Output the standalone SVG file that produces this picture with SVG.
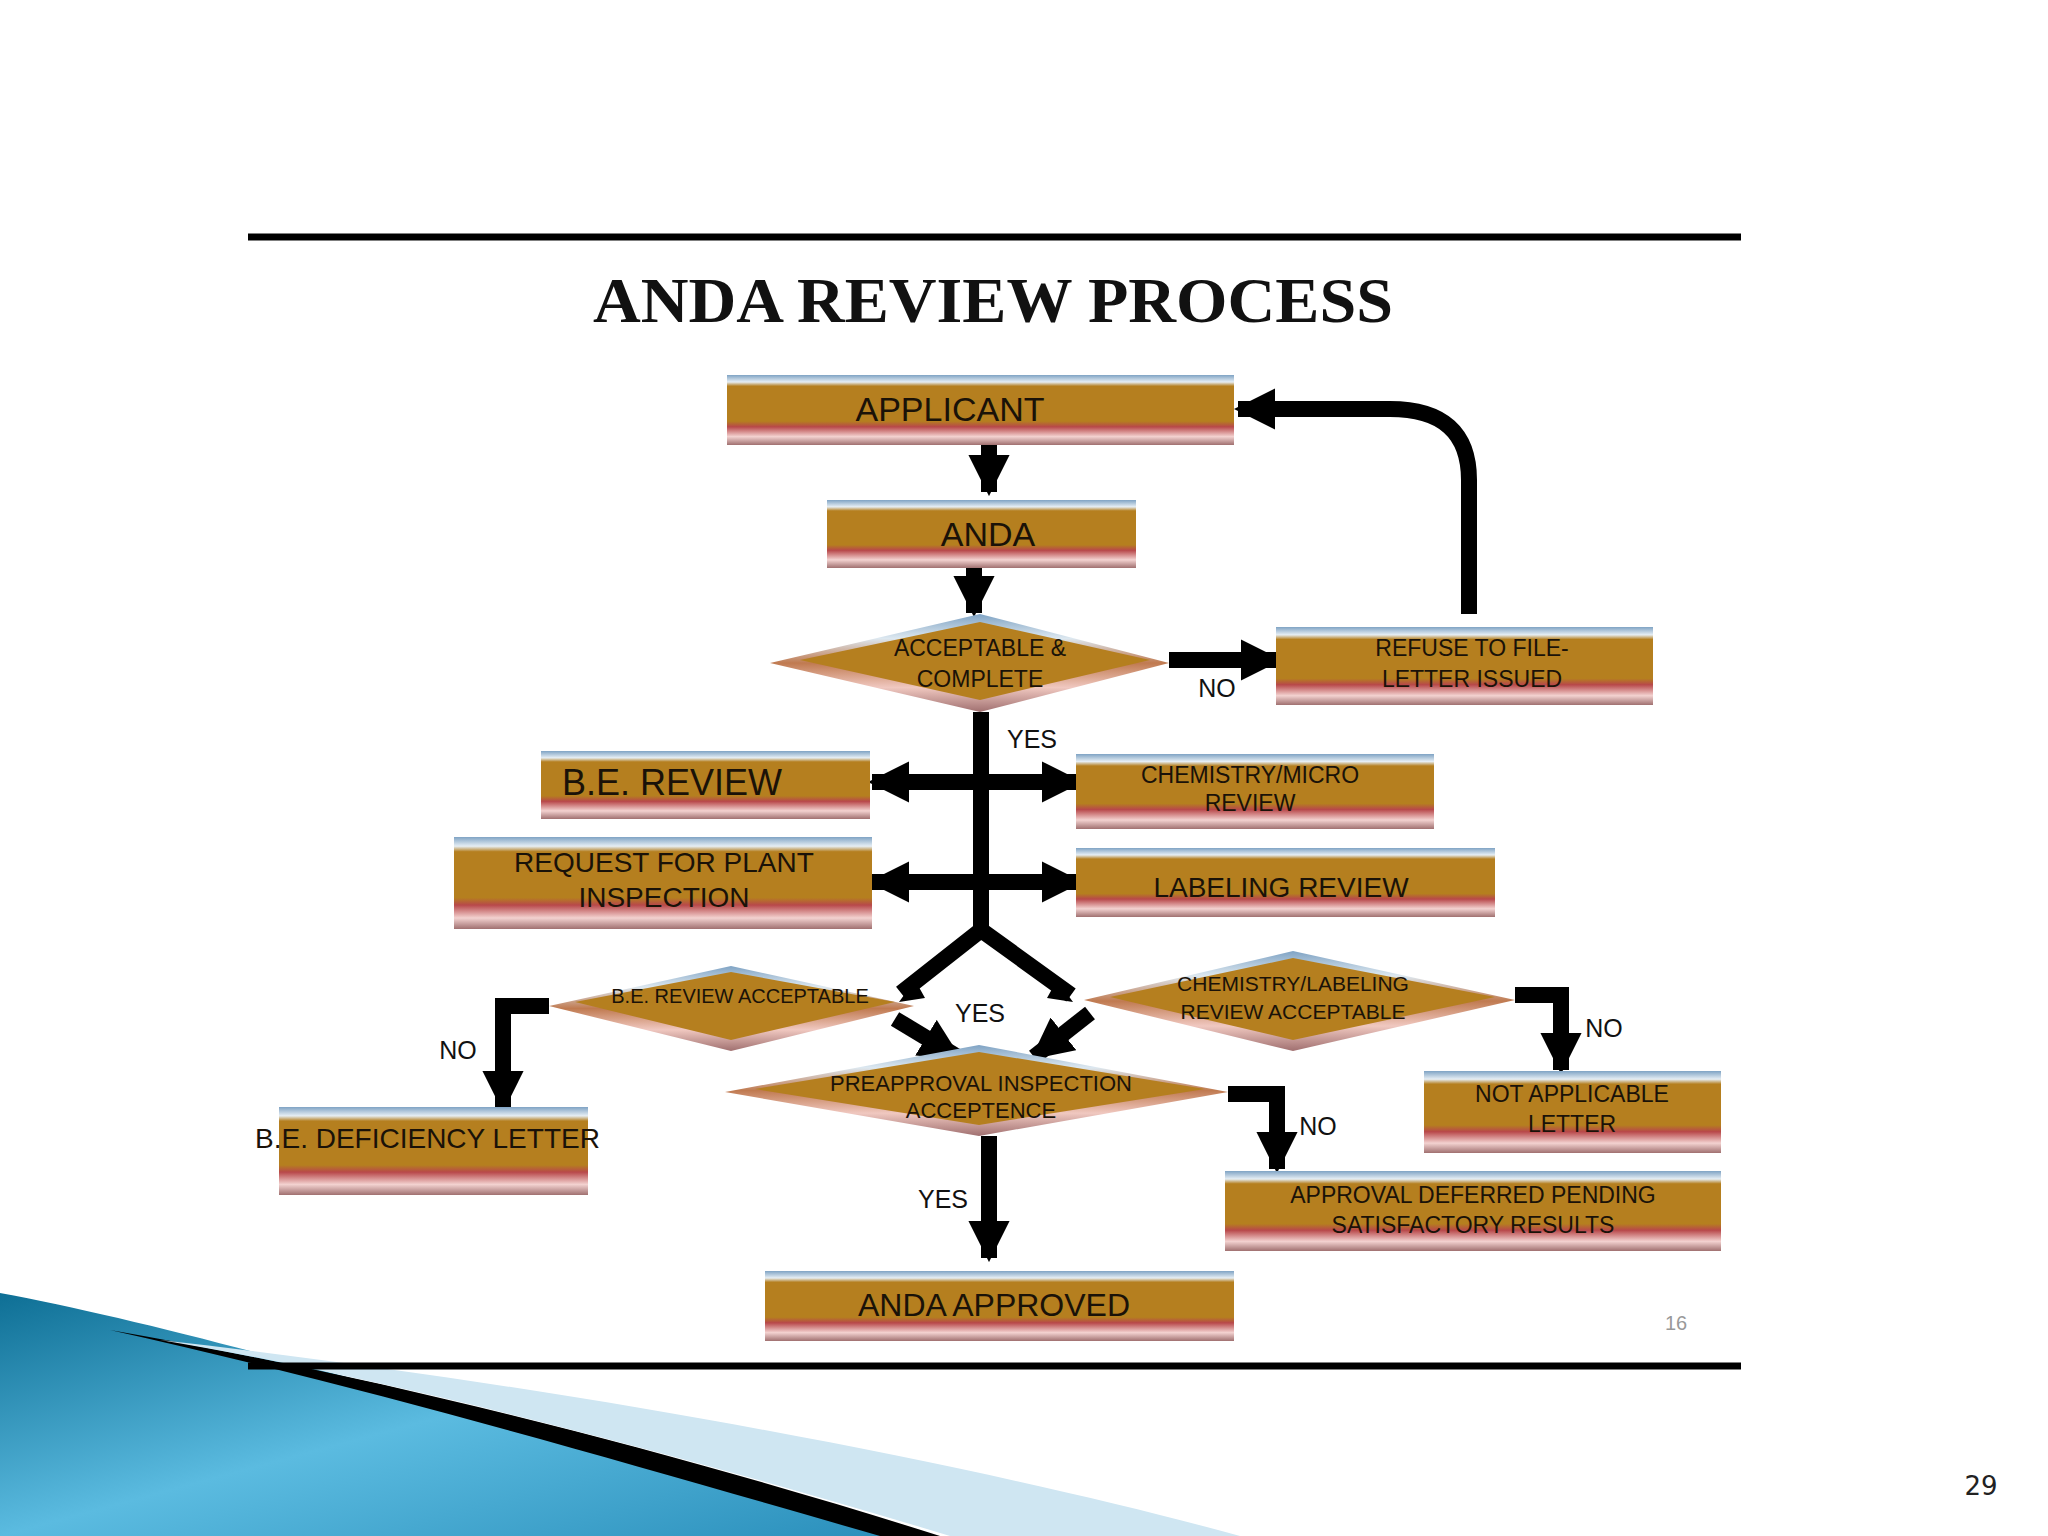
<svg xmlns="http://www.w3.org/2000/svg" width="2048" height="1536" viewBox="0 0 2048 1536">
<defs>
<linearGradient id="bx" x1="0" y1="0" x2="0" y2="1">
<stop offset="0" stop-color="#7fa3c4"/><stop offset="0.1" stop-color="#e6eef4"/><stop offset="0.16" stop-color="#b57f1f"/><stop offset="0.66" stop-color="#b57f1f"/><stop offset="0.74" stop-color="#b8484a"/><stop offset="0.88" stop-color="#f3d2d0"/><stop offset="1" stop-color="#a07070"/>
</linearGradient>
<linearGradient id="dm" x1="0" y1="0" x2="0" y2="1">
<stop offset="0" stop-color="#7fa3c4"/><stop offset="0.25" stop-color="#dde8f0"/><stop offset="0.5" stop-color="#c07a50"/><stop offset="0.75" stop-color="#f0c8c0"/><stop offset="1" stop-color="#a07070"/>
</linearGradient>
<linearGradient id="sw" x1="0" y1="0" x2="1" y2="1">
<stop offset="0" stop-color="#0e6f95"/><stop offset="0.5" stop-color="#5bbbe0"/><stop offset="1" stop-color="#2a8fbb"/>
</linearGradient>
<marker id="ah" viewBox="0 0 10 10" refX="9" refY="5" markerWidth="2.6" markerHeight="2.6" orient="auto-start-reverse" markerUnits="strokeWidth"><path d="M0,0 L10,5 L0,10 z" fill="#000"/></marker>
<style>
.t{font-family:"Liberation Sans",Arial,sans-serif;fill:#1a1208;text-anchor:middle}
.b{font-size:34px}.s{font-size:23px}.l{font-family:"Liberation Sans",Arial,sans-serif;font-size:25px;fill:#111;text-anchor:middle}
.c{fill:none;stroke:#000;stroke-width:16;marker-end:url(#ah)}
.g{fill:#b57f1f}
</style>
</defs>
<rect width="2048" height="1536" fill="#fff"/>
<path d="M0,1293 C200,1330 500,1420 900,1536 L0,1536 Z" fill="url(#sw)"/>
<path d="M110,1330 C400,1380 700,1460 940,1536 L880,1536 C650,1470 380,1390 110,1330 Z" fill="#000"/>
<path d="M160,1340 C600,1390 1000,1470 1240,1536 L950,1536 C700,1460 400,1380 160,1340 Z" fill="#cfe6f2"/>
<line x1="248" y1="237" x2="1741" y2="237" stroke="#000" stroke-width="7"/>
<line x1="248" y1="1366" x2="1741" y2="1366" stroke="#000" stroke-width="7"/>
<text x="993" y="322" font-family="Liberation Serif,serif" font-weight="bold" font-size="64" text-anchor="middle" fill="#111" textLength="800" lengthAdjust="spacingAndGlyphs">ANDA REVIEW PROCESS</text>
<text x="1676" y="1330" font-family="Liberation Sans,sans-serif" font-size="20" fill="#999" text-anchor="middle">16</text>
<text x="1981" y="1495" font-family="DejaVu Sans,sans-serif" font-size="26" fill="#222" text-anchor="middle">29</text>
<g id="connectors">
<path class="c" d="M989,445 V492"/>
<path class="c" d="M974,568 V613"/>
<path class="c" d="M1169,660 H1278"/>
<path class="c" d="M1469,614 V480 Q1469,409 1390,409 H1238"/>
<path d="M981,712 V930 L901,993 M981,930 L1071,995" fill="none" stroke="#000" stroke-width="16"/>
<path class="c" d="M872,782 H1079" style="marker-start:url(#ah)"/>
<path class="c" d="M872,882 H1079" style="marker-start:url(#ah)"/>
<path class="c" d="M895,1019 L958,1057"/>
<path class="c" d="M1090,1013 L1034,1057"/>
<path class="c" d="M549,1006 H503 V1108"/>
<path class="c" d="M1515,995 H1561 V1070"/>
<path class="c" d="M1228,1094 H1277 V1169"/>
<path class="c" d="M989,1136 V1258"/>
<path d="M915,980 L899,1002 L925,998 Z M1057,980 L1073,1002 L1047,998 Z" fill="#000"/>
<text class="l" x="1032" y="748">YES</text>
<text class="l" x="1217" y="697">NO</text>
<text class="l" x="980" y="1022">YES</text>
<text class="l" x="458" y="1059">NO</text>
<text class="l" x="1604" y="1037">NO</text>
<text class="l" x="1318" y="1135">NO</text>
<text class="l" x="943" y="1208">YES</text>
</g>
<g id="applicant"><rect x="727" y="375" width="507" height="70" fill="url(#bx)"/><text class="t b" x="950" y="421">APPLICANT</text></g>
<g id="anda"><rect x="827" y="500" width="309" height="68" fill="url(#bx)"/><text class="t b" x="988" y="546">ANDA</text></g>
<g id="acceptable"><polygon points="770,663 980,614 1169,663 980,712" fill="url(#dm)"/><polygon points="800,660 980,622 1150,660 980,700" class="g"/><text class="t s" x="980" y="656">ACCEPTABLE &amp;</text><text class="t s" x="980" y="687">COMPLETE</text></g>
<g id="refuse"><rect x="1276" y="627" width="377" height="78" fill="url(#bx)"/><text class="t s" x="1472" y="656">REFUSE TO FILE-</text><text class="t s" x="1472" y="687">LETTER ISSUED</text></g>
<g id="be-review"><rect x="541" y="751" width="329" height="68" fill="url(#bx)"/><text class="t" font-size="36" x="562" y="795" style="text-anchor:start">B.E. REVIEW</text></g>
<g id="chem-micro"><rect x="1076" y="754" width="358" height="75" fill="url(#bx)"/><text class="t s" x="1250" y="783">CHEMISTRY/MICRO</text><text class="t s" x="1250" y="811">REVIEW</text></g>
<g id="plant"><rect x="454" y="837" width="418" height="92" fill="url(#bx)"/><text class="t" font-size="28" x="664" y="872">REQUEST FOR PLANT</text><text class="t" font-size="28" x="664" y="907">INSPECTION</text></g>
<g id="labeling"><rect x="1076" y="848" width="419" height="69" fill="url(#bx)"/><text class="t" font-size="28" x="1281" y="897">LABELING REVIEW</text></g>
<g id="be-accept"><polygon points="549,1006 731,966 914,1006 731,1051" fill="url(#dm)"/><polygon points="575,1002 731,972 895,1002 731,1040" class="g"/><text class="t" font-size="20" x="740" y="1003">B.E. REVIEW ACCEPTABLE</text></g>
<g id="chem-accept"><polygon points="1084,1000 1293,951 1515,1000 1293,1051" fill="url(#dm)"/><polygon points="1110,997 1293,958 1495,997 1293,1040" class="g"/><text class="t" font-size="21" x="1293" y="991">CHEMISTRY/LABELING</text><text class="t" font-size="21" x="1293" y="1019">REVIEW ACCEPTABLE</text></g>
<g id="preapproval"><polygon points="725,1092 979,1045 1228,1092 979,1136" fill="url(#dm)"/><polygon points="755,1089 979,1052 1205,1089 979,1125" class="g"/><text class="t" font-size="22" x="981" y="1091">PREAPPROVAL INSPECTION</text><text class="t" font-size="22" x="981" y="1118">ACCEPTENCE</text></g>
<g id="be-deficiency"><rect x="279" y="1107" width="309" height="88" fill="url(#bx)"/><text class="t" font-size="28" x="255" y="1148" style="text-anchor:start">B.E. DEFICIENCY LETTER</text></g>
<g id="not-applicable"><rect x="1424" y="1071" width="297" height="82" fill="url(#bx)"/><text class="t s" x="1572" y="1102">NOT APPLICABLE</text><text class="t s" x="1572" y="1132">LETTER</text></g>
<g id="deferred"><rect x="1225" y="1171" width="496" height="80" fill="url(#bx)"/><text class="t s" x="1473" y="1203">APPROVAL DEFERRED PENDING</text><text class="t s" x="1473" y="1233">SATISFACTORY RESULTS</text></g>
<g id="approved"><rect x="765" y="1271" width="469" height="70" fill="url(#bx)"/><text class="t" font-size="32" x="994" y="1316">ANDA APPROVED</text></g>
</svg>
